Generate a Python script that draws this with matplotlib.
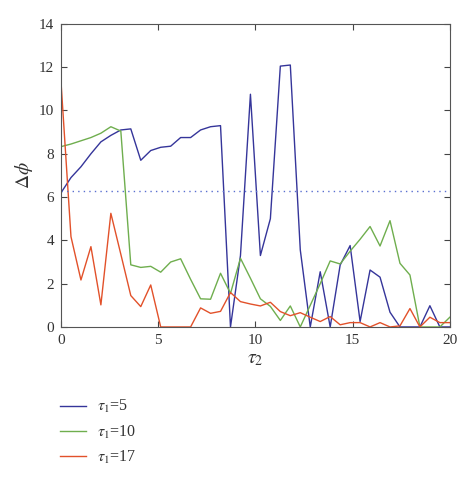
import numpy as np
import matplotlib
matplotlib.use("Agg")
import matplotlib.pyplot as plt
from matplotlib.lines import Line2D

plt.rcParams['font.family'] = ['Liberation Serif', 'DejaVu Serif']
plt.rcParams['mathtext.fontset'] = 'stix'

n_points = 40
tau2 = np.linspace(0, 20, n_points)

dphi_tau1_5 = [6.2, 6.9, 7.4, 8.0, 8.55, 8.85, 9.1, 9.15, 7.7, 8.15,
               8.3, 8.35, 8.75, 8.75, 9.1, 9.25, 9.3, 0.0, 3.3, 10.75,
               3.3, 5.0, 12.05, 12.1, 3.56, 0.0, 2.55, 0.0, 2.86, 3.76,
               0.25, 2.63, 2.3, 0.68, 0.0, 0.0, 0.0, 0.98, 0.0, 0.0]
dphi_tau1_10 = [8.33, 8.45, 8.6, 8.75, 8.95, 9.25, 9.05, 2.87, 2.75, 2.8,
                2.53, 3.0, 3.15, 2.2, 1.3, 1.28, 2.48, 1.55, 3.17, 2.25,
                1.3, 0.95, 0.3, 0.97, 0.0, 1.0, 2.0, 3.05, 2.91, 3.5,
                4.05, 4.64, 3.74, 4.91, 2.94, 2.4, 0.0, 0.0, 0.0, 0.45]
dphi_tau1_17 = [11.33, 4.17, 2.17, 3.71, 1.02, 5.25, 3.36, 1.45, 0.94, 1.94,
                0.0, 0.0, 0.0, 0.0, 0.88, 0.63, 0.72, 1.59, 1.17, 1.06,
                0.97, 1.14, 0.71, 0.52, 0.66, 0.45, 0.25, 0.48, 0.1, 0.2,
                0.2, 0.0, 0.2, 0.0, 0.05, 0.85, 0.0, 0.45, 0.2, 0.2]
threshold = 2 * np.pi

labels = [r'$\tau_1$=5', r'$\tau_1$=10', r'$\tau_1$=17']
colors = ['#35359a', '#6fae4e', '#e2512a']

fig = plt.figure(figsize=(4.74, 4.78), dpi=100)
ax = fig.add_axes([0.1287, 0.316, 0.8203, 0.634])

series = [dphi_tau1_5, dphi_tau1_10, dphi_tau1_17]
for vals, c in zip(series, colors):
    ax.plot(tau2, vals, color=c, lw=1.0)
ax.axhline(threshold, color='#5a6fd0', lw=1.0, ls=(0, (1, 3)))

ax.set_xlim(0, 20)
ax.set_ylim(0, 14)
ax.set_xticks([0, 5, 10, 15, 20])
ax.set_yticks(range(0, 15, 2))
ax.tick_params(direction='in', top=True, right=True, labelsize=11,
               colors='#444444', length=4, width=0.8, pad=5)
for lab in ax.get_xticklabels() + ax.get_yticklabels():
    lab.set_color('#333333')
for sp in ax.spines.values():
    sp.set_color('#555555')
    sp.set_linewidth(0.8)
ax.set_xlabel(r'$\tau_2$', fontsize=14, color='#333333', labelpad=3)
ax.set_ylabel(r'$\Delta\phi$', fontsize=14, color='#333333', labelpad=3)

handles = [Line2D([0], [0], color=c, lw=1.0) for c in colors]
fig.legend(handles, labels, loc='upper left', bbox_to_anchor=(0.097, 0.197),
           frameon=False, fontsize=11.5, handlelength=1.6, handletextpad=0.7,
           labelspacing=0.52, labelcolor='#333333')

fig.savefig('out.png', dpi=100)
